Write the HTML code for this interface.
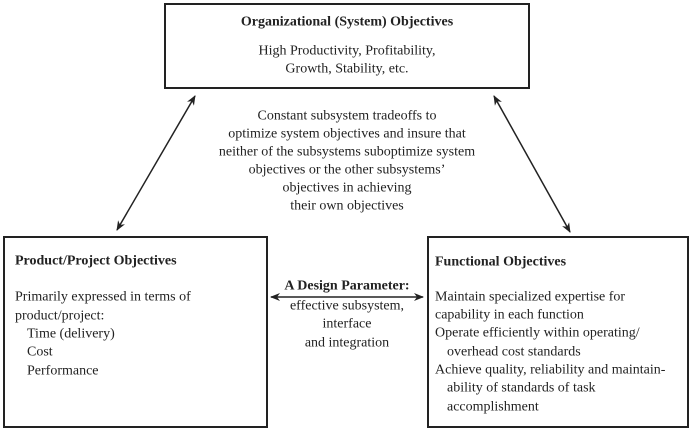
<!DOCTYPE html>
<html><head><meta charset="utf-8"><style>
body{margin:0;background:#fff;}
svg{display:block;}
text{font-family:"Liberation Serif",serif;font-size:14px;fill:#222;}
.b{font-weight:bold;}
</style></head><body>
<svg width="691" height="433" viewBox="0 0 691 433">
<defs><marker id="a" markerWidth="10" markerHeight="8" refX="9" refY="4" orient="auto-start-reverse" markerUnits="userSpaceOnUse"><path d="M0,0 L10,4 L0,8 L3,4 Z" fill="#222"/></marker></defs>
<g fill="none" stroke="#222" stroke-width="2">
<rect x="165" y="4" width="364" height="84"/>
<rect x="4" y="237" width="263" height="190"/>
<rect x="428" y="237" width="260" height="190"/>
</g>
<g stroke="#222" stroke-width="1.5" marker-start="url(#a)" marker-end="url(#a)">
<line x1="117" y1="230" x2="195" y2="96"/>
<line x1="570" y1="232" x2="494" y2="96"/>
<line x1="271" y1="297" x2="423" y2="297"/>
</g>
<g text-anchor="middle" dominant-baseline="central">
<text x="347" y="22" class="b">Organizational (System) Objectives</text>
<text x="347" y="51">High Productivity, Profitability,</text>
<text x="347" y="69">Growth, Stability, etc.</text>
<text x="347" y="116">Constant subsystem tradeoffs to</text>
<text x="347" y="134">optimize system objectives and insure that</text>
<text x="347" y="152">neither of the subsystems suboptimize system</text>
<text x="347" y="170">objectives or the other subsystems’</text>
<text x="347" y="188">objectives in achieving</text>
<text x="347" y="206">their own objectives</text>
<text x="347" y="286" class="b">A Design Parameter:</text>
<text x="347" y="306">effective subsystem,</text>
<text x="347" y="324">interface</text>
<text x="347" y="343">and integration</text>
</g>
<g dominant-baseline="central">
<text x="15" y="261" class="b">Product/Project Objectives</text>
<text x="15" y="297">Primarily expressed in terms of</text>
<text x="15" y="316">product/project:</text>
<text x="27" y="334">Time (delivery)</text>
<text x="27" y="352">Cost</text>
<text x="27" y="371">Performance</text>
<text x="435" y="262" class="b">Functional Objectives</text>
<text x="435" y="297">Maintain specialized expertise for</text>
<text x="435" y="315">capability in each function</text>
<text x="435" y="333">Operate efficiently within operating/</text>
<text x="447" y="352">overhead cost standards</text>
<text x="435" y="370">Achieve quality, reliability and maintain-</text>
<text x="447" y="388">ability of standards of task</text>
<text x="447" y="407">accomplishment</text>
</g>
</svg>
</body></html>
